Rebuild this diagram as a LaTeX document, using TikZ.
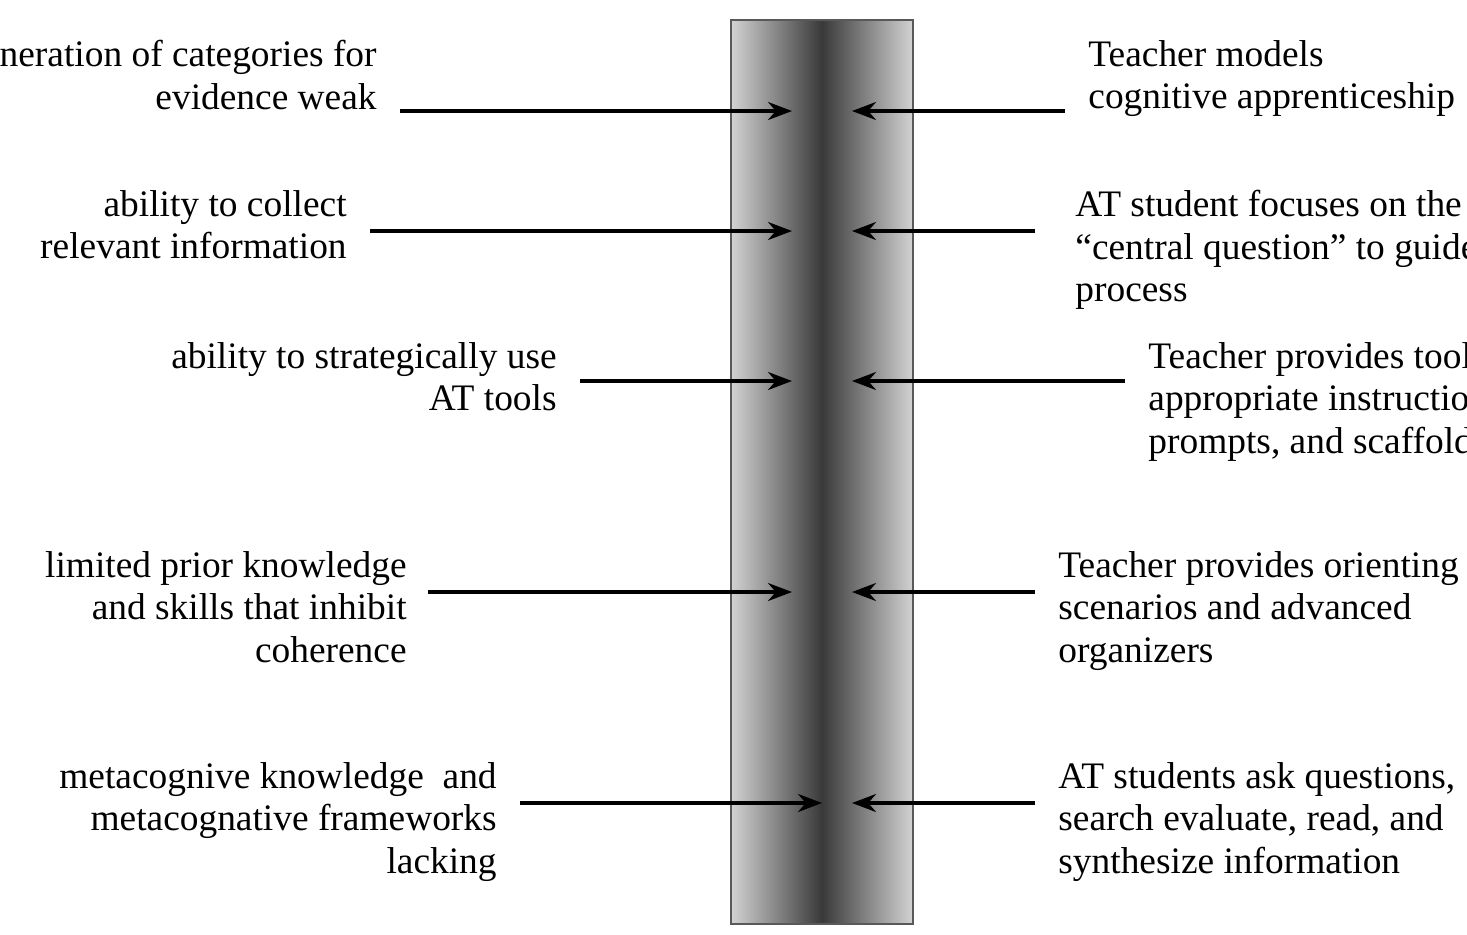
\documentclass[tikz,border=0pt]{standalone}
\usepackage{fontspec}
\setmainfont{Liberation Serif}
\usetikzlibrary{arrows.meta}
\begin{document}
\begin{tikzpicture}[x=0.5pt,y=-0.5pt,
  lbl/.style={inner sep=0pt,font=\fontsize{18.7}{21.25}\selectfont},
  ltxt/.style={lbl,align=right,anchor=north east},
  rtxt/.style={lbl,align=left,anchor=north west},
  arr/.style={line width=1.6pt,-{Stealth[length=12pt,width=9pt]}}]
\useasboundingbox (0,0) rectangle (1467,934);
\clip (0,0) rectangle (1467,934);
\node[draw=gray!70!black,line width=0.8pt,minimum width=91pt,minimum height=452pt,inner sep=0pt,
  left color=gray!35,right color=gray!35,middle color=gray!45!black] (bar) at (822,472) {};
% left texts
\node[ltxt] (l1) at (377,40) {Generation of categories for\\evidence weak};
\node[ltxt] (l2) at (347,190) {ability to collect\\relevant information};
\node[ltxt] (l3) at (557,342) {ability to strategically use\\AT tools};
\node[ltxt] (l4) at (407,551) {limited prior knowledge\\and skills that inhibit\\coherence};
\node[ltxt] (l5) at (497,762) {metacognive knowledge\ \ and\\metacognative frameworks\\lacking};
% right texts
\node[rtxt] (r1) at (1088,40) {Teacher models\\cognitive apprenticeship};
\node[rtxt] (r2) at (1075,190) {AT student focuses on the\\“central question” to guide\\process};
\node[rtxt] (r3) at (1148,342) {Teacher provides tools,\\appropriate instruction,\\prompts, and scaffolds};
\node[rtxt] (r4) at (1058,551) {Teacher provides orienting\\scenarios and advanced\\organizers};
\node[rtxt] (r5) at (1058,762) {AT students ask questions,\\search evaluate, read, and\\synthesize information};
% arrow coordinates
\coordinate (a1) at (400,111); \coordinate (b1) at (792,111);
\coordinate (c1) at (1065,111); \coordinate (d1) at (852,111);
\coordinate (a2) at (370,231); \coordinate (b2) at (792,231);
\coordinate (c2) at (1035,231); \coordinate (d2) at (852,231);
\coordinate (a3) at (580,381); \coordinate (b3) at (792,381);
\coordinate (c3) at (1125,381); \coordinate (d3) at (852,381);
\coordinate (a4) at (428,592); \coordinate (b4) at (792,592);
\coordinate (c4) at (1035,592); \coordinate (d4) at (852,592);
\coordinate (a5) at (520,803); \coordinate (b5) at (822,803);
\coordinate (c5) at (1035,803); \coordinate (d5) at (852,803);
\foreach \i in {1,...,5}{
  \draw[arr] (a\i) -- (b\i);
  \draw[arr] (c\i) -- (d\i);
}
\end{tikzpicture}
\end{document}
